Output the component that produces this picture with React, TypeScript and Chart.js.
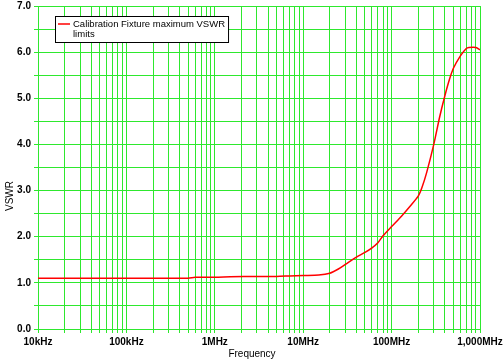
import React, { useEffect, useRef } from "react";
import { Chart, registerables } from "chart.js";

Chart.register(...registerables);

const freqsHz = [
  1e4, 1e5, 5e5, 6e5, 1e6, 1.5e6, 3e6, 5e6, 7e6, 1e7, 1.5e7, 2e7, 2.5e7, 3e7,
  4e7, 5e7, 6e7, 7e7, 8e7, 1e8, 1.3e8, 1.6e8, 2e8, 2.2e8, 2.5e8, 3e8, 3.5e8,
  4e8, 4.5e8, 5e8, 6e8, 7e8, 7.5e8, 9e8, 1e9,
];
const vswr = [
  1.1, 1.1, 1.1, 1.12, 1.12, 1.13, 1.14, 1.14, 1.15, 1.16, 1.17, 1.21, 1.3,
  1.4, 1.56, 1.66, 1.76, 1.87, 2.02, 2.22, 2.45, 2.65, 2.88, 3.06, 3.4, 4.0,
  4.6, 5.05, 5.4, 5.65, 5.92, 6.08, 6.1, 6.1, 6.05,
];
const seriesName = ["Calibration Fixture maximum VSWR", "limits"];
const xTickLabels: Record<string, string> = {
  "10000": "10kHz",
  "100000": "100kHz",
  "1000000": "1MHz",
  "10000000": "10MHz",
  "100000000": "100MHz",
  "1000000000": "1,000MHz",
};
const xTitle = "Frequency";
const yTitle = "VSWR";

const GRID = "#2ee82e";
const FONT = "'Liberation Sans', Arial, sans-serif";

const overlayPlugin = {
  id: "overlay",
  afterDraw(chart: any) {
    const ctx = chart.ctx;
    const a = chart.chartArea;
    ctx.save();
    const bx = a.left + 17;
    const by = a.top + 10;
    ctx.font = `9.5px ${FONT}`;
    const tw = Math.max(...seriesName.map((s) => ctx.measureText(s).width));
    const bw = 18 + tw + 3;
    const bh = 26;
    ctx.fillStyle = "#ffffff";
    ctx.fillRect(bx, by, bw, bh);
    ctx.strokeStyle = "#000000";
    ctx.lineWidth = 1;
    ctx.strokeRect(bx + 0.5, by + 0.5, bw, bh);
    ctx.strokeStyle = "#ff0000";
    ctx.lineWidth = 1.5;
    ctx.beginPath();
    ctx.moveTo(bx + 3, by + 8);
    ctx.lineTo(bx + 15, by + 8);
    ctx.stroke();
    ctx.fillStyle = "#000000";
    ctx.textBaseline = "middle";
    ctx.textAlign = "left";
    seriesName.forEach((s, i) => ctx.fillText(s, bx + 18, by + 8 + i * 10));
    ctx.font = `10px ${FONT}`;
    ctx.textAlign = "center";
    ctx.fillText(xTitle, 252, 354);
    ctx.translate(10, 196);
    ctx.rotate(-Math.PI / 2);
    ctx.fillText(yTitle, 0, 0);
    ctx.restore();
  },
};

export default function App() {
  const ref = useRef<HTMLCanvasElement>(null);
  useEffect(() => {
    document.body.style.margin = "0";
    const chart = new Chart(ref.current!, {
      type: "line",
      data: {
        datasets: [
          {
            label: seriesName.join(" "),
            data: freqsHz.map((f, i) => ({ x: f, y: vswr[i] })),
            borderColor: "#ff0000",
            borderWidth: 1.5,
            pointRadius: 0,
            tension: 0.25,
            fill: false,
          },
        ],
      },
      options: {
        animation: false,
        responsive: false,
        maintainAspectRatio: false,
        layout: { padding: { left: 0, right: 24, top: 6, bottom: 0 } },
        plugins: { legend: { display: false }, tooltip: { enabled: false } },
        scales: {
          x: {
            type: "logarithmic",
            min: 1e4,
            max: 1e9,
            afterBuildTicks(scale: any) {
              const t: any[] = [];
              for (let e = 4; e <= 9; e++) {
                for (let m = 1; m <= 9; m++) {
                  const v = m * Math.pow(10, e);
                  if (v > 1e9) break;
                  t.push({ value: v, major: m === 1 });
                }
              }
              scale.ticks = t;
            },
            afterFit(scale: any) {
              scale.height = 32;
              scale.paddingLeft = 0;
              scale.paddingRight = 0;
            },
            ticks: {
              autoSkip: false,
              maxRotation: 0,
              minRotation: 0,
              padding: 3,
              color: "#000",
              font: { family: FONT, size: 10, weight: "bold" },
              callback: (v: any) => xTickLabels[String(Math.round(Number(v)))] ?? "",
            },
            grid: { color: GRID, lineWidth: 1, tickLength: 4 },
            border: { color: GRID },
          },
          y: {
            min: 0,
            max: 7,
            afterFit(scale: any) {
              scale.width = 38;
              scale.paddingTop = 0;
              scale.paddingBottom = 0;
            },
            ticks: {
              stepSize: 0.5,
              padding: 3,
              color: "#000",
              font: { family: FONT, size: 10, weight: "bold" },
              callback: (v: any) => (Number(v) % 1 === 0 ? Number(v).toFixed(1) : ""),
            },
            grid: { color: GRID, lineWidth: 1, tickLength: 4 },
            border: { color: GRID },
          },
        },
      },
      plugins: [overlayPlugin],
    });
    return () => chart.destroy();
  }, []);
  return (
    <div style={{ width: 504, height: 361, background: "#fff" }}>
      <canvas ref={ref} width={504} height={361} />
    </div>
  );
}
